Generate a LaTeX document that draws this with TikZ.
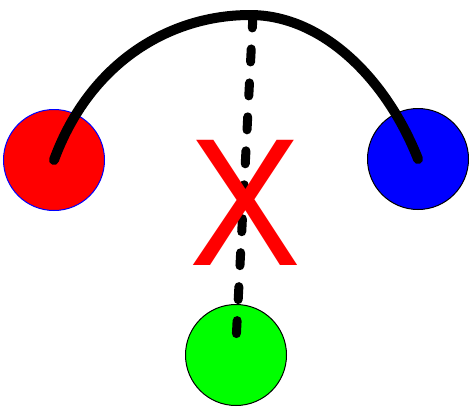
\documentclass[tikz,border=0pt]{standalone}
\usepackage{fontspec}
\newfontfamily\crossfont{Liberation Sans}
\usepackage{tikz}
\usetikzlibrary{positioning}

\begin{document}
\begin{tikzpicture}[x=1pt, y=-1pt,
  ball/.style={circle, minimum size=101pt, inner sep=0pt, line width=1pt},
  bridge/.style={line width=10pt, line cap=round},
  blocked/.style={line width=9pt, line cap=round, dash pattern=on 13pt off 21pt}]

\useasboundingbox (0,0) rectangle (474,413);

\node[ball, fill={rgb,255:red,255;green,0;blue,0}, draw={rgb,255:red,0;green,0;blue,255}] (R) at (54,160) {};
\node[ball, fill={rgb,255:red,0;green,0;blue,255}, draw=black] (B) at (418,159) {};
\node[ball, fill={rgb,255:red,0;green,255;blue,0}, draw=black] (G) at (236,355) {};
\coordinate (T) at (250,15);

% arc over the top
\draw[bridge] (R.center) .. controls (90,62) and (170,15) .. (T)
  .. controls (322,15) and (386,78) .. (B.center);

% dashed drop to the green one
\draw[blocked] ([xshift=3pt]T) -- ([yshift=13pt]G.center);

\node[inner sep=0pt, text={rgb,255:red,255;green,0;blue,0}, xscale=0.92,
  font=\crossfont\fontsize{182}{182}\selectfont] (X) at (245,203) {X};
\end{tikzpicture}
\end{document}
